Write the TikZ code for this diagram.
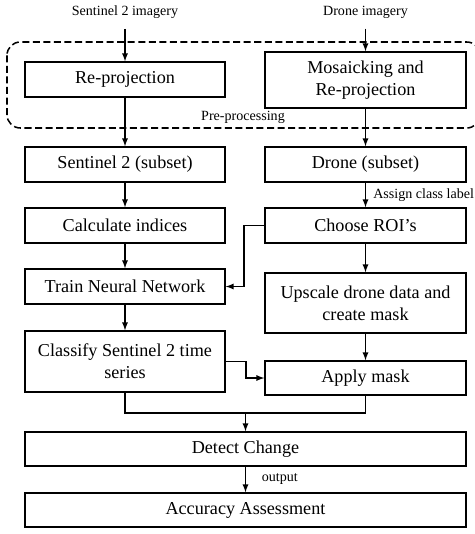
\documentclass[tikz,border=0pt]{standalone}
\usepackage{fontspec}
\setmainfont{Liberation Serif}
\usetikzlibrary{arrows}

\tikzset{
    box/.style={draw,line width=1.3pt,align=center,inner sep=0pt,
        font=\fontsize{15.5}{18.5}\selectfont},
    lbl/.style={font=\fontsize{12}{14}\selectfont}
}

\begin{document}
\begin{tikzpicture}[>=latex,x=0.03cm,y=-0.03cm,line width=1.3pt]
        \useasboundingbox (0,0) rectangle (474,534);
        % inputs
        \node[lbl] (s2) at (125,12) {Sentinel 2 imagery};
        \node[lbl] (dr) at (365.5,12) {Drone imagery};
        % pre-processing
        \draw[dashed,dash pattern=on 6pt off 3pt,rounded corners=4mm] (7,42) rectangle (480,128);
        \node[lbl] (pp) at (243,117) {Pre-processing};
        \node[box,minimum width=6cm,minimum height=1.05cm] (rp) at (125,79.5) {Re-projection};
        \node[box,minimum width=6.03cm,minimum height=1.68cm] (mo) at (365.5,80) {Mosaicking and\\Re-projection};
        % left column
        \node[box,minimum width=6cm,minimum height=1.05cm] (s2s) at (125,164.5) {Sentinel 2 (subset)};
        \node[box,minimum width=6cm,minimum height=1.05cm] (ci) at (125,225.5) {Calculate indices};
        \node[box,minimum width=6cm,minimum height=1.05cm] (nn) at (125,286.5) {Train Neural Network};
        \node[box,minimum width=6cm,minimum height=1.83cm] (cl) at (125,361.5) {Classify Sentinel 2 time\\series};
        % right column
        \node[box,minimum width=6.03cm,minimum height=1.05cm] (drs) at (365.5,164.5) {Drone (subset)};
        \node[box,minimum width=6.03cm,minimum height=1.05cm] (roi) at (365.5,225.5) {Choose ROI’s};
        \node[box,minimum width=6.03cm,minimum height=1.8cm] (up) at (365.5,303) {Upscale drone data and\\create mask};
        \node[box,minimum width=6.03cm,minimum height=1.02cm] (am) at (365.5,378) {Apply mask};
        % bottom
        \node[box,minimum width=13.23cm,minimum height=1.02cm] (dc) at (245.5,449) {Detect Change};
        \node[box,minimum width=13.23cm,minimum height=1.02cm] (acc) at (245.5,510) {Accuracy Assessment};
        \coordinate (mg) at (245.5,413);
        % connectors
        \draw[->,shorten <=5pt] (s2) -- (rp);
        \draw[->,shorten <=5pt] (dr) -- (mo);
        \draw[->] (rp) -- (s2s);
        \draw[->] (mo) -- (drs);
        \draw[->] (s2s) -- (ci);
        \draw[->] (drs) -- (roi) node[lbl,midway,right,inner sep=0pt,xshift=6pt] {Assign class label};
        \draw[->] (ci) -- (nn);
        \draw[->] (roi) -- (up);
        \draw[->] (roi.west) -- ++(-20,0) |- (nn.east);
        \draw[->] (nn) -- (cl);
        \draw[->] (up) -- (am);
        \draw[->] (cl.east) -- ++(20,0) |- (am.west);
        \draw (cl.south) |- (mg) -| (am.south);
        \draw[->] (mg) -- (dc);
        \draw[->] (dc) -- (acc) node[lbl,midway,right,xshift=10pt] {output};
\end{tikzpicture}
\end{document}
